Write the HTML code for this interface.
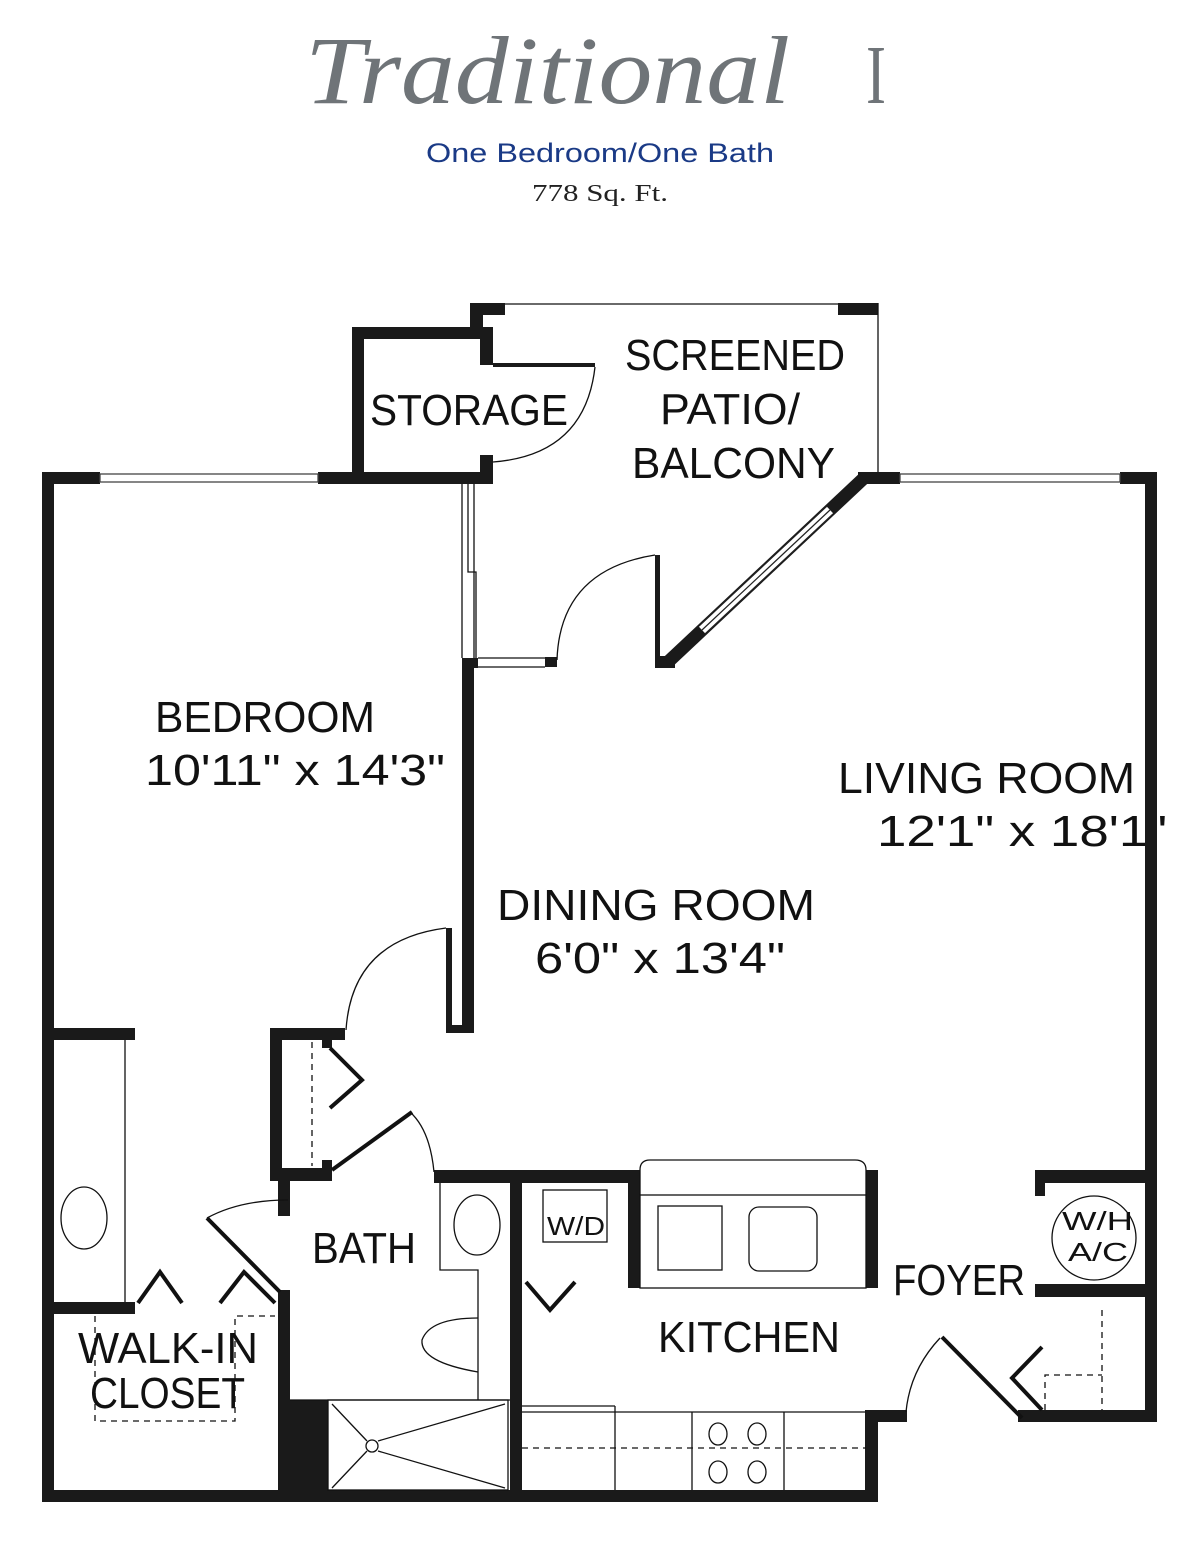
<!DOCTYPE html>
<html><head><meta charset="utf-8"><style>
html,body{margin:0;padding:0;background:#fff;}
svg{display:block;}
.lb{font-family:"Liberation Sans",sans-serif;fill:#111;}
</style></head><body>
<svg width="1200" height="1550" viewBox="0 0 1200 1550" xmlns="http://www.w3.org/2000/svg">
<rect width="1200" height="1550" fill="#fff"/>
<!-- Title -->
<text x="305" y="103" font-family="Liberation Serif,serif" font-style="italic" font-size="96" fill="#6f7478" textLength="485" lengthAdjust="spacingAndGlyphs">Traditional</text>
<text x="866" y="103" font-family="Liberation Serif,serif" font-size="84" fill="#6f7478" textLength="20" lengthAdjust="spacingAndGlyphs">I</text>
<text x="426" y="162" font-family="Liberation Sans,sans-serif" font-size="27" fill="#1a3a86" textLength="348" lengthAdjust="spacingAndGlyphs">One Bedroom/One Bath</text>
<text x="532" y="201" font-family="Liberation Serif,serif" font-size="24" fill="#222" textLength="136" lengthAdjust="spacingAndGlyphs">778 Sq. Ft.</text>

<g class="lb" font-size="44">
<text x="370" y="425" textLength="198" lengthAdjust="spacingAndGlyphs">STORAGE</text>
<text x="625" y="370" textLength="220" lengthAdjust="spacingAndGlyphs">SCREENED</text>
<text x="660" y="424" textLength="140" lengthAdjust="spacingAndGlyphs">PATIO/</text>
<text x="632" y="478" textLength="203" lengthAdjust="spacingAndGlyphs">BALCONY</text>
<text x="155" y="732" textLength="220" lengthAdjust="spacingAndGlyphs">BEDROOM</text>
<text x="145" y="785" textLength="300" lengthAdjust="spacingAndGlyphs">10'11" x 14'3"</text>
<text x="838" y="793" textLength="297" lengthAdjust="spacingAndGlyphs">LIVING ROOM</text>
<text x="877" y="846" textLength="290" lengthAdjust="spacingAndGlyphs">12'1" x 18'1"</text>
<text x="497" y="920" textLength="318" lengthAdjust="spacingAndGlyphs">DINING ROOM</text>
<text x="535" y="973" textLength="250" lengthAdjust="spacingAndGlyphs">6'0" x 13'4"</text>
<text x="312" y="1263" textLength="104" lengthAdjust="spacingAndGlyphs">BATH</text>
<text x="893" y="1295" textLength="132" lengthAdjust="spacingAndGlyphs">FOYER</text>
<text x="658" y="1352" textLength="182" lengthAdjust="spacingAndGlyphs">KITCHEN</text>
<text x="78" y="1363" textLength="180" lengthAdjust="spacingAndGlyphs">WALK-IN</text>
<text x="90" y="1408" textLength="155" lengthAdjust="spacingAndGlyphs">CLOSET</text>
</g>
<g class="lb" font-size="26">
<text x="547" y="1235" textLength="58" lengthAdjust="spacingAndGlyphs">W/D</text>
<text x="1062" y="1230" textLength="71" lengthAdjust="spacingAndGlyphs">W/H</text>
<text x="1068" y="1261" textLength="60" lengthAdjust="spacingAndGlyphs">A/C</text>
</g>

<g fill="#1a1a1a">
<rect x="42" y="472" width="12" height="1030"/>
<rect x="42" y="472" width="58" height="12"/>
<rect x="318" y="472" width="175" height="12"/>
<rect x="352" y="327" width="12" height="157"/>
<rect x="352" y="327" width="141" height="12"/>
<rect x="480" y="327" width="13" height="38"/>
<rect x="480" y="455" width="13" height="29"/>
<rect x="470" y="303" width="13" height="36"/>
<rect x="470" y="303" width="35" height="12"/>
<rect x="493" y="363" width="102" height="4"/>
<rect x="838" y="303" width="40" height="12"/>
<rect x="462" y="658" width="12" height="375"/>
<rect x="446" y="928" width="6" height="105"/>
<rect x="446" y="1025" width="28" height="8"/>
<rect x="474" y="658" width="4" height="10"/>
<rect x="545" y="657" width="12" height="10"/>
<rect x="655" y="555" width="5" height="108"/>
<rect x="655" y="656" width="20" height="12"/>
<rect x="858" y="472" width="42" height="12"/>
<rect x="1120" y="472" width="37" height="12"/>
<rect x="1145" y="472" width="12" height="950"/>
<rect x="1035" y="1170" width="115" height="13"/>
<rect x="1035" y="1170" width="10" height="26"/>
<rect x="1035" y="1284" width="115" height="13"/>
<rect x="1018" y="1410" width="139" height="12"/>
<rect x="865" y="1410" width="42" height="12"/>
<rect x="865" y="1410" width="13" height="92"/>
<rect x="434" y="1170" width="206" height="13"/>
<rect x="628" y="1170" width="12" height="118"/>
<rect x="866" y="1170" width="12" height="118"/>
<rect x="510" y="1183" width="12" height="319"/>
<rect x="42" y="1490" width="836" height="12"/>
<rect x="270" y="1028" width="12" height="153"/>
<rect x="270" y="1028" width="75" height="12"/>
<rect x="270" y="1168" width="62" height="13"/>
<rect x="322" y="1040" width="10" height="8"/>
<rect x="322" y="1160" width="10" height="10"/>
<rect x="278" y="1180" width="12" height="36"/>
<rect x="278" y="1290" width="12" height="212"/>
<rect x="278" y="1400" width="50" height="102"/>
<rect x="54" y="1028" width="81" height="12"/>
<rect x="54" y="1302" width="81" height="12"/>
</g>
<!-- diagonal wall with window -->
<line x1="668" y1="662" x2="864" y2="478" stroke="#1a1a1a" stroke-width="13"/>
<line x1="702" y1="630" x2="830" y2="510" stroke="#fff" stroke-width="9"/>
<g stroke="#222" stroke-width="1.2">
<line x1="699" y1="626" x2="827" y2="506"/>
<line x1="705" y1="634" x2="833" y2="514"/>
<line x1="702" y1="630" x2="830" y2="510"/>
</g>

<g fill="none" stroke="#111" stroke-width="1.3">
<rect x="100" y="474" width="218" height="8" stroke="#444"/>
<rect x="900" y="474" width="220" height="8" stroke="#444"/>
<line x1="505" y1="304" x2="838" y2="304"/>
<line x1="878" y1="303" x2="878" y2="472"/>
<path d="M462 484 V658 M468 484 V572 H476 V658 M474 484 V658"/>
<path d="M478 658 H545 M478 667 H545"/>
<path d="M595 367 Q585 455 493 462"/>
<path d="M557 660 Q560 570 655 555"/>
<path d="M446 928 Q352 940 346 1030"/>
<path d="M410 1112 Q430 1130 434 1172"/>
<path d="M207 1218 Q240 1200 288 1200"/>
<path d="M940 1338 Q910 1370 906 1412"/>
<line x1="312" y1="1042" x2="312" y2="1166" stroke-dasharray="6 5"/>
</g>
<g fill="none" stroke="#111" stroke-width="4">
<path d="M330 1048 L362 1080 L330 1108"/>
<path d="M332 1170 L412 1112"/>
<path d="M207 1218 L280 1292"/>
<path d="M138 1303 L160 1272 L182 1303 M220 1303 L244 1272 L275 1303"/>
<path d="M526 1282 L550 1310 L575 1282"/>
<path d="M942 1337 L1022 1418"/>
<path d="M1042 1347 L1012 1378 L1042 1410"/>
</g>
<g fill="none" stroke="#111" stroke-width="1.3">
<line x1="125" y1="1040" x2="125" y2="1302"/>
<ellipse cx="84" cy="1218" rx="23" ry="31"/>
<path d="M95 1316 V1421 H235 V1316 H275" stroke-dasharray="6 5"/>
<path d="M440 1183 V1270 H478 V1400"/>
<ellipse cx="477" cy="1225" rx="23" ry="30"/>
<path d="M478 1318 Q430 1318 422 1340 Q420 1362 478 1372"/>
<line x1="290" y1="1400" x2="510" y2="1400"/>
<rect x="328" y="1400" width="180" height="90"/>
<circle cx="372" cy="1446" r="6"/>
<path d="M367 1441 L332 1404 M378 1441 L505 1404 M378 1451 L505 1488 M367 1451 L332 1488"/>
<rect x="543" y="1190" width="64" height="52"/>
<path d="M640 1195 V1170 Q640 1160 650 1160 H855 Q866 1160 866 1170 V1195"/>
<rect x="640" y="1195" width="226" height="93"/>
<rect x="658" y="1206" width="64" height="64"/>
<rect x="749" y="1207" width="68" height="64" rx="10"/>
<line x1="522" y1="1412" x2="866" y2="1412"/>
<line x1="522" y1="1406" x2="615" y2="1406"/>
<path d="M615 1406 V1490 M692 1412 V1490 M784 1412 V1490"/>
<line x1="522" y1="1448" x2="866" y2="1448" stroke-dasharray="6 5"/>
<ellipse cx="718" cy="1434" rx="9" ry="11"/><ellipse cx="757" cy="1434" rx="9" ry="11"/>
<ellipse cx="718" cy="1472" rx="9" ry="11"/><ellipse cx="757" cy="1472" rx="9" ry="11"/>
<circle cx="1094" cy="1238" r="42"/>
<path d="M1102 1310 V1410 M1045 1410 V1375 H1102" stroke-dasharray="6 5"/>
</g>
</svg>
</body></html>
